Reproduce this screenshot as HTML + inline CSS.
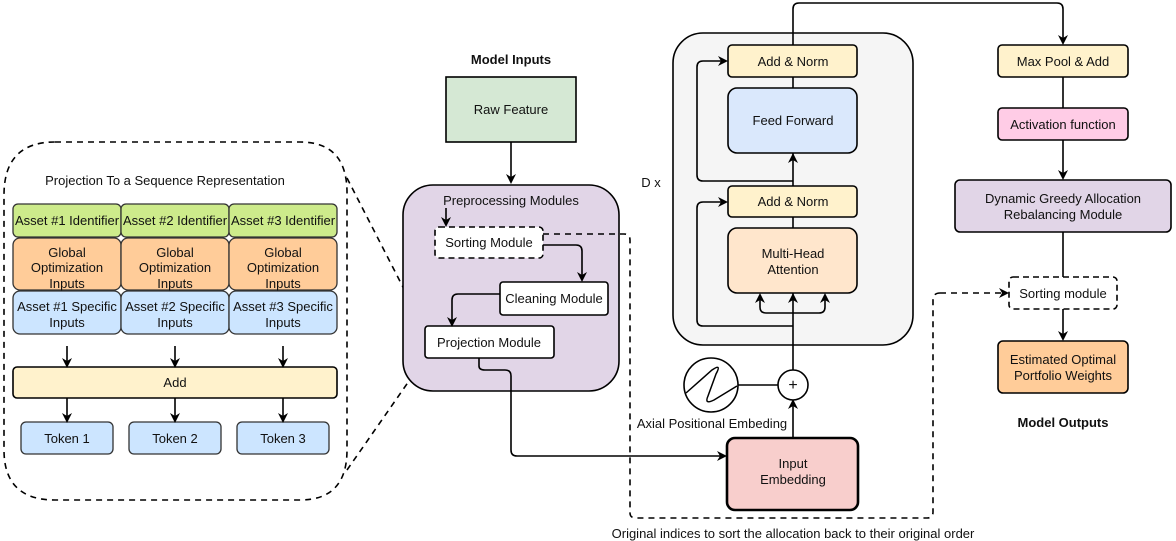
<!DOCTYPE html>
<html><head><style>
body{margin:0;background:#fff}
svg{display:block}
text{font-family:"Liberation Sans",sans-serif;font-size:13px;fill:#111}
</style></head><body>
<svg width="1176" height="541" viewBox="0 0 1176 541">
<defs>
<marker id="a" markerWidth="10" markerHeight="10" refX="8" refY="5" orient="auto" markerUnits="userSpaceOnUse"><path d="M0,0 L10,5 L0,10 L3,5 Z" fill="#000"/></marker>
</defs>
<g stroke="#000" stroke-width="1.6" fill="none">
<path d="M55,142 H300 Q348,142 347,195 V450 Q347,500 300,500 H55 Q4,500 4,450 V195 Q4,142 55,142 Z" stroke-dasharray="6,5"/>
<path d="M347,178 L425,330" stroke-dasharray="6,5"/>
<path d="M347,470 L425,358" stroke-dasharray="6,5"/>
</g>
<text x="165" y="185" text-anchor="middle">Projection To a Sequence Representation</text>
<g stroke="#333" stroke-width="1.3">
<rect x="13" y="204" width="108" height="33" rx="5" fill="#cdeb8b"/>
<rect x="121" y="204" width="108" height="33" rx="5" fill="#cdeb8b"/>
<rect x="229" y="204" width="108" height="33" rx="5" fill="#cdeb8b"/>
<rect x="13" y="238" width="108" height="52" rx="7" fill="#ffcc99"/>
<rect x="121" y="238" width="108" height="52" rx="7" fill="#ffcc99"/>
<rect x="229" y="238" width="108" height="52" rx="7" fill="#ffcc99"/>
<rect x="13" y="291" width="108" height="43" rx="7" fill="#cce5ff"/>
<rect x="121" y="291" width="108" height="43" rx="7" fill="#cce5ff"/>
<rect x="229" y="291" width="108" height="43" rx="7" fill="#cce5ff"/>
<rect x="13" y="367" width="324" height="31" rx="4" fill="#fff2cc" stroke="#000" stroke-width="1.6"/>
<rect x="21" y="422" width="92" height="32" rx="5" fill="#cce5ff"/>
<rect x="129" y="422" width="92" height="32" rx="5" fill="#cce5ff"/>
<rect x="237" y="422" width="92" height="32" rx="5" fill="#cce5ff"/>
</g>
<g text-anchor="middle">
<text x="67" y="225">Asset #1 Identifier</text><text x="175" y="225">Asset #2 Identifier</text><text x="283" y="225">Asset #3 Identifier</text>
<text x="67" y="257">Global</text><text x="67" y="272">Optimization</text><text x="67" y="288">Inputs</text>
<text x="175" y="257">Global</text><text x="175" y="272">Optimization</text><text x="175" y="288">Inputs</text>
<text x="283" y="257">Global</text><text x="283" y="272">Optimization</text><text x="283" y="288">Inputs</text>
<text x="67" y="311">Asset #1 Specific</text><text x="67" y="327">Inputs</text>
<text x="175" y="311">Asset #2 Specific</text><text x="175" y="327">Inputs</text>
<text x="283" y="311">Asset #3 Specific</text><text x="283" y="327">Inputs</text>
<text x="175" y="387">Add</text>
<text x="67" y="443">Token 1</text><text x="175" y="443">Token 2</text><text x="283" y="443">Token 3</text>
</g>
<g stroke="#000" stroke-width="1.6" fill="none" marker-end="url(#a)">
<path d="M67,346 V366"/><path d="M175,346 V366"/><path d="M283,346 V366"/>
<path d="M67,398 V421"/><path d="M175,398 V421"/><path d="M283,398 V421"/>
</g>

<text x="511" y="64" text-anchor="middle" style="font-weight:bold">Model Inputs</text>
<rect x="446" y="77" width="130" height="65" fill="#d5e8d4" stroke="#000" stroke-width="1.6"/>
<text x="511" y="114" text-anchor="middle">Raw Feature</text>
<path d="M511,142 V182" stroke="#000" stroke-width="1.6" marker-end="url(#a)"/>
<rect x="403" y="185" width="216" height="206" rx="30" fill="#e1d5e7" stroke="#000" stroke-width="1.6"/>
<text x="511" y="205" text-anchor="middle">Preprocessing Modules</text>
<rect x="435" y="227" width="108" height="31" rx="4" fill="#fff" stroke="#000" stroke-width="1.6" stroke-dasharray="6,4"/>
<text x="489" y="247" text-anchor="middle">Sorting Module</text>
<rect x="500" y="282" width="108" height="33" rx="3" fill="#fff" stroke="#000" stroke-width="1.6"/>
<text x="554" y="303" text-anchor="middle">Cleaning Module</text>
<rect x="425" y="326" width="129" height="32" rx="3" fill="#fff" stroke="#000" stroke-width="1.6"/>
<text x="489" y="347" text-anchor="middle">Projection Module</text>
<g stroke="#000" stroke-width="1.6" fill="none">
<path d="M446,208 V225" marker-end="url(#a)"/>
<path d="M543,245 H576 Q582,245 582,251 V280" marker-end="url(#a)"/>
<path d="M500,294 H458 Q452,294 452,300 V325" marker-end="url(#a)"/>
<path d="M479,358 V366 Q479,370 485,370 H505 Q511,370 511,376 V450 Q511,456 517,456 H725" marker-end="url(#a)"/>
<path d="M543,234 H624 Q630,234 630,240 V513 Q630,518 636,518 H927 Q933,518 933,512 V300 Q933,293 940,293" stroke-dasharray="6,5"/>
<path d="M940,293 H1007" stroke-dasharray="6,5" marker-end="url(#a)"/>
</g>
<text x="793" y="538" text-anchor="middle">Original indices to sort the allocation back to their original order</text>

<rect x="673" y="33" width="240" height="312" rx="30" fill="#f5f5f5" stroke="#000" stroke-width="1.6"/>
<text x="651" y="187" text-anchor="middle">D x</text>
<g stroke="#000" stroke-width="1.6" fill="none">
<path d="M793,438 V401" marker-end="url(#a)"/>
<path d="M793,370 V45"/>
<path d="M793,45 V9 Q793,3 799,3 H1057 Q1063,3 1063,9 V43" marker-end="url(#a)"/>
<path d="M793,181 H703 Q697,181 697,175 V67 Q697,61 703,61 H726" marker-end="url(#a)"/>
<path d="M793,326 H703 Q697,326 697,320 V208 Q697,202 703,202 H726" marker-end="url(#a)"/>
<path d="M793,313 H766 Q760,313 760,307 V295" marker-end="url(#a)"/>
<path d="M793,313 H819 Q825,313 825,307 V295" marker-end="url(#a)"/>
</g>
<path d="M793,300 V295" stroke="#000" stroke-width="1.6" marker-end="url(#a)"/>
<path d="M793,160 V155" stroke="#000" stroke-width="1.6" marker-end="url(#a)"/>
<g stroke="#000" stroke-width="1.6">
<rect x="728" y="45" width="129" height="32" rx="4" fill="#fff2cc"/>
<rect x="728" y="88" width="129" height="65" rx="9" fill="#dae8fc"/>
<rect x="728" y="186" width="129" height="31" rx="4" fill="#fff2cc"/>
<rect x="728" y="228" width="129" height="65" rx="9" fill="#ffe6cc"/>
<rect x="727" y="438" width="131" height="72" rx="8" fill="#f8cecc" stroke-width="2.6"/>
<circle cx="793" cy="385" r="15" fill="#fff"/>
<circle cx="711" cy="385" r="27" fill="#fff"/>
<line x1="738" y1="385" x2="778" y2="385"/>
</g>
<path d="M686,393 L712,370 Q722,363 716,374 L708,396 Q704,405 714,400 L737,386" stroke="#000" stroke-width="1.5" fill="none"/>
<text x="793" y="390" text-anchor="middle" style="font-size:16px">+</text>
<g text-anchor="middle">
<text x="793" y="66">Add &amp; Norm</text>
<text x="793" y="125">Feed Forward</text>
<text x="793" y="206">Add &amp; Norm</text>
<text x="793" y="258">Multi-Head</text><text x="793" y="274">Attention</text>
<text x="793" y="468">Input</text><text x="793" y="484">Embedding</text>
<text x="712" y="428">Axial Positional Embeding</text>
</g>

<g stroke="#000" stroke-width="1.6" fill="none">
<path d="M1063,77 V108"/>
<path d="M1063,140 V178" marker-end="url(#a)"/>
<path d="M1063,232 V277"/>
<path d="M1063,309 V339" marker-end="url(#a)"/>
</g>
<g stroke="#000" stroke-width="1.6">
<rect x="998" y="45" width="130" height="32" rx="4" fill="#fff2cc"/>
<rect x="998" y="108" width="130" height="32" rx="4" fill="#ffcce6"/>
<rect x="955" y="180" width="216" height="52" rx="5" fill="#e1d5e7"/>
<rect x="1009" y="277" width="108" height="32" rx="4" fill="#fff" stroke-dasharray="6,4"/>
<rect x="998" y="341" width="130" height="52" rx="5" fill="#ffcc99"/>
</g>
<g text-anchor="middle">
<text x="1063" y="66">Max Pool &amp; Add</text>
<text x="1063" y="129">Activation function</text>
<text x="1063" y="203">Dynamic Greedy Allocation</text><text x="1063" y="219">Rebalancing Module</text>
<text x="1063" y="298">Sorting module</text>
<text x="1063" y="364">Estimated Optimal</text><text x="1063" y="380">Portfolio Weights</text>
<text x="1063" y="427" style="font-weight:bold">Model Outputs</text>
</g>
</svg>
</body></html>
